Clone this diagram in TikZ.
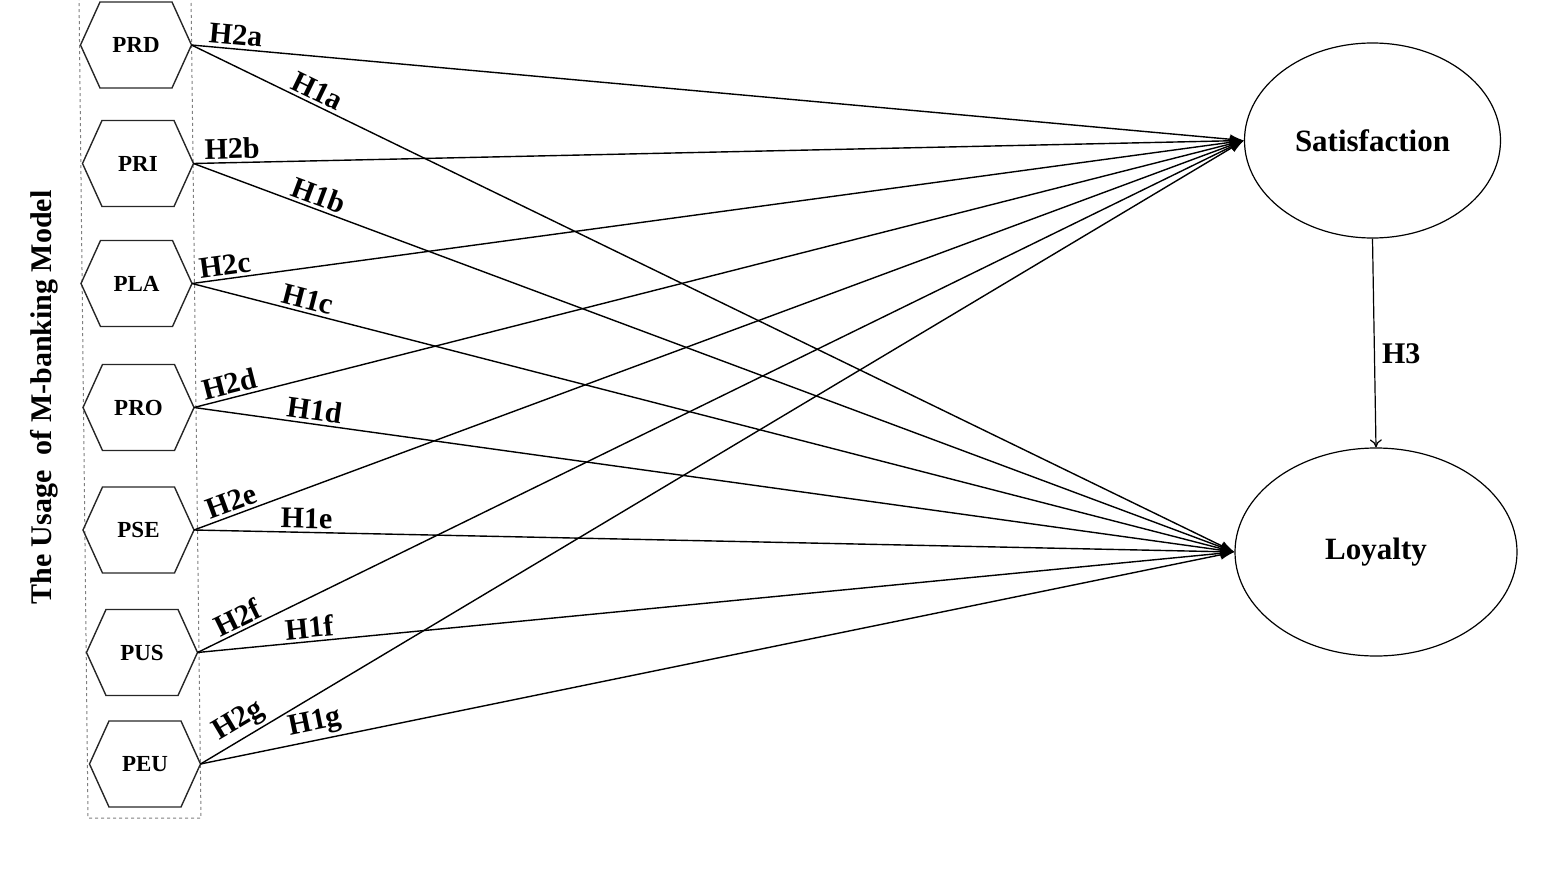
\documentclass[tikz,border=0pt]{standalone}
\usepackage{fontspec}
\setmainfont{Liberation Serif}
\usetikzlibrary{arrows.meta,calc,shapes.geometric}
\begin{document}
\begin{tikzpicture}[x=0.5pt,y=-0.5pt,
  hexnode/.style={rectangle, minimum width=55.5pt, minimum height=43pt, inner sep=0pt, outer sep=0pt, font=\bfseries\fontsize{11.5}{12}\selectfont},
  hexline/.style={line width=0.7pt, black!85},
  latent/.style={ellipse, draw, line width=0.6pt, inner sep=0pt, font=\bfseries\fontsize{15.5}{16}\selectfont},
  hpath/.style={line width=0.7pt, -{Latex[length=7pt,width=5pt]}},
  hlab/.style={sloped, above, inner sep=1.5pt, font=\bfseries\fontsize{15}{16}\selectfont},
  boxline/.style={gray, line width=0.5pt, dash pattern=on 1.5pt off 1.5pt},
]
\useasboundingbox (0,0) rectangle (1559,894);

% dashed frame (runs off the top edge)
\draw[boxline] (79,-5) -- (191,-5) -- (201,818) -- (88,818) -- cycle;

% title
\node[rotate=90, anchor=base, inner sep=0pt, font=\bfseries\fontsize{15}{16}\selectfont] (title) at (51,397.5) {The Usage\ \ of M-banking Model};

% constructs
\node[hexnode] (PRD) at (136,45) {PRD};
\node[hexnode] (PRI) at (138,163.5) {PRI};
\node[hexnode] (PLA) at (136.5,283.5) {PLA};
\node[hexnode] (PRO) at (138.5,407.5) {PRO};
\node[hexnode] (PSE) at (138.5,530) {PSE};
\node[hexnode] (PUS) at (142,652.5) {PUS};
\node[hexnode] (PEU) at (145,764) {PEU};
\foreach \n in {PRD,PRI,PLA,PRO,PSE,PUS,PEU}
  \draw[hexline] (\n.west) -- ($(\n.north west)+(19.5,0)$) -- ($(\n.north east)+(-19.5,0)$) -- (\n.east) -- ($(\n.south east)+(-19.5,0)$) -- ($(\n.south west)+(19.5,0)$) -- cycle;

\node[latent, minimum width=128pt, minimum height=97.5pt] (sat) at (1372.5,140.5) {Satisfaction};
\node[latent, minimum width=141pt, minimum height=104pt] (loy) at (1376,552) {Loyalty};

% H2 paths
\draw[hpath] (PRD.east) -- node[hlab, pos=0.041] {H2a} (sat.west);
\draw[hpath] (PRI.east) -- node[hlab, pos=0.037] {H2b} (sat.west);
\draw[hpath] (PLA.east) -- node[hlab, pos=0.033] {H2c} (sat.west);
\draw[hpath] (PRO.east) -- node[hlab, pos=0.037] {H2d} (sat.west);
\draw[hpath] (PSE.east) -- node[hlab, pos=0.040] {H2e} (sat.west);
\draw[hpath] (PUS.east) -- node[hlab, pos=0.044] {H2f} (sat.west);
\draw[hpath] (PEU.east) -- node[hlab, pos=0.045] {H2g} (sat.west);
% H1 paths
\draw[hpath] (PRD.east) -- node[hlab, pos=0.115] {H1a} (loy.west);
\draw[hpath] (PRI.east) -- node[hlab, pos=0.116] {H1b} (loy.west);
\draw[hpath] (PLA.east) -- node[hlab, pos=0.108] {H1c} (loy.west);
\draw[hpath] (PRO.east) -- node[hlab, pos=0.114] {H1d} (loy.west);
\draw[hpath] (PSE.east) -- node[hlab, pos=0.108] {H1e} (loy.west);
\draw[hpath] (PUS.east) -- node[hlab, pos=0.109] {H1f} (loy.west);
\draw[hpath] (PEU.east) -- node[hlab, pos=0.114] {H1g} (loy.west);

% H3
\draw[line width=0.6pt, -{To[length=4pt,width=6pt]}] (sat.south) -- node[right, pos=0.55, inner sep=3.5pt, font=\bfseries\fontsize{15}{16}\selectfont] {H3} (loy.north);
\end{tikzpicture}
\end{document}
